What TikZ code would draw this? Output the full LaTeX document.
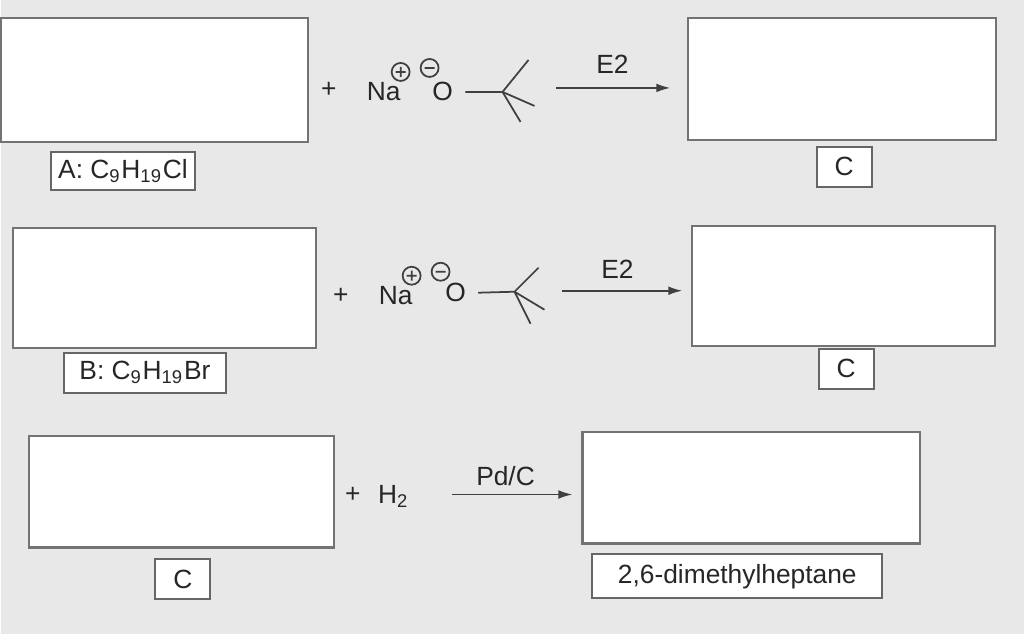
\documentclass[tikz,border=0pt]{standalone}
\usepackage{fontspec}
\setmainfont{Liberation Sans}
\usetikzlibrary{arrows.meta}
\newcommand{\sbs}[1]{\textsubscript{#1}}
\begin{document}
\begin{tikzpicture}[x=0.01cm,y=-0.01cm,
  every node/.style={font=\fontsize{7.5}{9}\selectfont, text=black!85},
  bigbox/.style={draw=black!55, fill=white, line width=0.6pt},
  lblbox/.style={draw=black!60, fill=white, line width=0.6pt, inner sep=2pt},
  bond/.style={black!75, line width=0.5pt},
  chg/.style={black!75, line width=0.5pt},
  rarrow/.style={black!75, line width=0.5pt, -{Latex[length=4pt,width=2.5pt]}}]
\fill[black!9] (0,0) rectangle (1024,635);
% row 1
\draw[bigbox] (0,18) rectangle (307,142);
\node[lblbox, minimum width=1.35cm, minimum height=0.36cm] (la) at (122,171) {A: C\sbs{9}H\sbs{19}Cl};
\draw[bigbox] (688,18) rectangle (996,140);
\node[lblbox, minimum width=0.55cm, minimum height=0.4cm] (c1) at (844,167) {C};
\node (p1) at (328,90) {+};
\node (na1) at (383,92) {Na};
\draw[chg] (400,72) circle (9) (395,72) -- (405,72) (400,67) -- (400,77);
\draw[chg] (429,68) circle (9) (424,68) -- (434,68);
\node (o1) at (442,92) {O};
\coordinate (cc1) at (502,92);
\draw[bond] (o1.east) -- (cc1) -- (528,60);
\draw[bond] (cc1) -- (534,106);
\draw[bond] (cc1) -- (520,122);
\coordinate (a1s) at (556,88); \coordinate (a1e) at (670,88);
\draw[rarrow] (a1s) -- (a1e);
\node at (612,64) {E2};
% row 2
\draw[bigbox] (12,228) rectangle (315,348);
\node[lblbox, minimum width=1.62cm, minimum height=0.4cm] (lb) at (144,373) {B: C\sbs{9}H\sbs{19}Br};
\draw[bigbox] (692,226) rectangle (995,346);
\node[lblbox, minimum width=0.55cm, minimum height=0.4cm] (c2) at (846,369) {C};
\node (p2) at (340,296) {+};
\node (na2) at (395,296) {Na};
\draw[chg] (411,276) circle (9) (406,276) -- (416,276) (411,271) -- (411,281);
\draw[chg] (440,272) circle (9) (435,272) -- (445,272);
\node (o2) at (455,293) {O};
\coordinate (cc2) at (514,292);
\draw[bond] (o2.east) -- (cc2) -- (538,268);
\draw[bond] (cc2) -- (544,310);
\draw[bond] (cc2) -- (530,324);
\coordinate (a2s) at (562,291); \coordinate (a2e) at (682,291);
\draw[rarrow] (a2s) -- (a2e);
\node at (617,270) {E2};
% row 3
\draw[bigbox] (28,436) rectangle (333,548);
\node[lblbox, minimum width=0.55cm, minimum height=0.4cm] (c3) at (182,580) {C};
\draw[bigbox] (582,432) rectangle (920,544);
\node[lblbox, minimum width=2.9cm, minimum height=0.44cm] (dm) at (737,577) {2,6-dimethylheptane};
\node (p3) at (352,495) {+};
\node (h2) at (393,497) {H\sbs{2}};
\coordinate (a3s) at (451,495); \coordinate (a3e) at (572,495);
\draw[rarrow] (a3s) -- (a3e);
\node at (505,477) {Pd/C};
\end{tikzpicture}
\end{document}
